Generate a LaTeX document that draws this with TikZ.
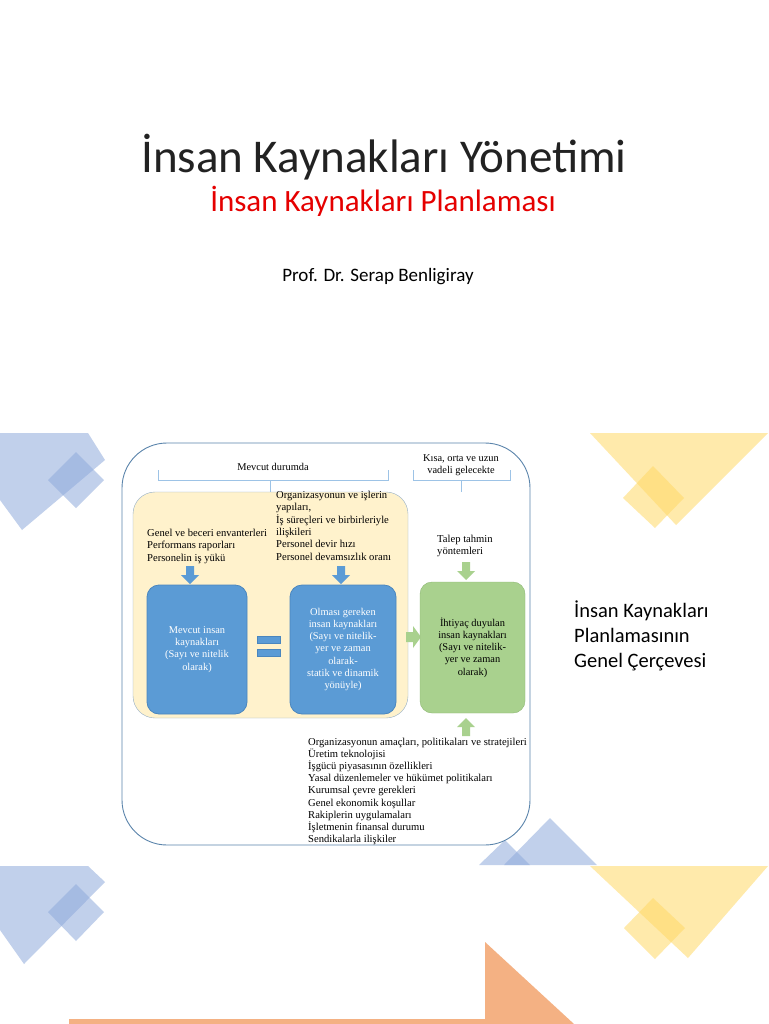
\documentclass[tikz,border=0pt]{standalone}
\usepackage{fontspec}
\setmainfont{Liberation Serif}
\newfontfamily\calfont{Carlito}
\begin{document}
\begin{tikzpicture}[x=1pt,y=-1pt,
  deco/.style={fill=#1,opacity=0.55,draw=none},
  txt/.style={font=\fontsize{10.6}{12.3}\selectfont,align=left,inner sep=0,anchor=north west},
  ctxt/.style={font=\fontsize{10.4}{12.3}\selectfont,align=center,inner sep=0},
  bluebox/.style={fill=blue1,draw=blue2,rounded corners=12pt,line width=0.8pt},
  brk/.style={draw=brk,line width=0.6pt},
  pics/darr/.style={code={\fill[#1] (-4,0)--(4,0)--(4,9)--(9,9)--(0,18)--(-9,9)--(-4,9)--cycle;}},
  pics/uarr/.style={code={\fill[#1] (-4,0)--(4,0)--(4,-9)--(9,-9)--(0,-18)--(-9,-9)--(-4,-9)--cycle;}},
  pics/rarr/.style={code={\fill[#1] (0,-5)--(7,-5)--(7,-11)--(15,0)--(7,11)--(7,5)--(0,5)--cycle;}}
]
\definecolor{lblue}{HTML}{8FAADC}
\definecolor{lyel}{HTML}{FFD966}
\definecolor{orng}{HTML}{F4B183}
\definecolor{blue1}{HTML}{5B9BD5}
\definecolor{blue2}{HTML}{4A86BE}
\definecolor{green1}{HTML}{A9D18E}
\definecolor{green2}{HTML}{8DB873}
\definecolor{cream}{HTML}{FFF2CC}
\definecolor{brk}{HTML}{9DC3E6}
\definecolor{ttl}{HTML}{222222}
\useasboundingbox (0,0) rectangle (768,1024);
\fill[white] (0,0) rectangle (768,1024);
% decorations
\fill[deco=lblue] (0,433)--(88,433)--(105,460)--(22,530)--(0,500)--cycle;
\fill[deco=lblue] (48,480)--(76,452)--(104,480)--(76,508)--cycle;
\fill[deco=lblue] (0,866)--(88,866)--(105,882)--(24,964)--(0,930)--cycle;
\fill[deco=lblue] (48,912)--(76,884)--(104,912)--(76,941)--cycle;
\fill[deco=lyel] (590,433)--(768,433)--(676,525)--cycle;
\fill[deco=lyel] (623,498)--(653,466)--(684,498)--(655,528)--cycle;
\fill[deco=lyel] (590,866)--(768,866)--(688,958)--cycle;
\fill[deco=lyel] (624,928)--(653,898)--(685,928)--(655,959)--cycle;
\fill[deco=lblue] (550,818)--(504,865)--(597,865)--cycle;
\fill[deco=lblue] (505,840)--(479,865)--(530,865)--cycle;
\fill[orng] (485,942)--(574,1024)--(485,1024)--cycle;
\fill[orng] (69,1019) rectangle (486,1024);
% titles
\node[font=\calfont\fontsize{47}{50}\selectfont,text=ttl] (t1) at (384,157) {İnsan Kaynakları Yönetimi};
\node[font=\calfont\fontsize{31}{34}\selectfont,text=red!90!black] (t2) at (383,201) {İnsan Kaynakları Planlaması};
\node[font=\calfont\fontsize{19}{21}\selectfont] (t3) at (378,277) {Prof. Dr. Serap Benligiray};
\node[font=\calfont\fontsize{20.5}{25}\selectfont,align=left,anchor=north west,inner sep=0] (t4) at (574,601) {İnsan Kaynakları\\Planlamasının\\Genel Çerçevesi};
% diagram frame
\draw[draw=blue2!70!gray,line width=0.9pt,rounded corners=45pt] (122,443) rectangle (530,845);
% brackets
\draw[brk] (158,470)--(158,480)--(388,480)--(388,470) (270,480)--(270,492);
\node[ctxt] (b1) at (273,467) {Mevcut durumda};
\draw[brk] (413,470)--(413,480)--(510,480)--(510,470) (461,480)--(461,492);
\node[ctxt] (b2) at (461,465) {Kısa, orta ve uzun\\vadeli gelecekte};
% yellow box
\draw[fill=cream,draw=brk!70!gray,rounded corners=22pt] (133,492) rectangle (408,718);
\node[txt] (l1) at (147,529) {Genel ve beceri envanterleri\\Performans raporları\\Personelin iş yükü};
\node[txt] (l2) at (276,491) {Organizasyonun ve işlerin\\yapıları,\\İş süreçleri ve birbirleriyle\\ilişkileri\\Personel devir hızı\\Personel devamsızlık oranı};
\pic at (190,566) {darr=blue1};
\pic at (341,566) {darr=blue1};
\node[bluebox,minimum width=100pt,minimum height=129pt,text=white,ctxt] (m1) at (197,649.5) {Mevcut insan\\kaynakları\\(Sayı ve nitelik\\olarak)};
\node[bluebox,minimum width=106pt,minimum height=129pt,text=white,ctxt] (m2) at (343,649.5) {Olması gereken\\insan kaynakları\\(Sayı ve nitelik-\\yer ve zaman\\olarak-\\statik ve dinamik\\yönüyle)};
\fill[blue1,draw=blue2] (257,636) rectangle (280,643) (257,649) rectangle (280,656);
\pic at (406,637) {rarr=green1};
\node[fill=green1,draw=green2,rounded corners=12pt,minimum width=105pt,minimum height=131pt,ctxt] (g1) at (472.5,647.5) {İhtiyaç duyulan\\insan kaynakları\\(Sayı ve nitelik-\\yer ve zaman\\olarak)};
\node[txt] (l3) at (437,535) {Talep tahmin\\yöntemleri};
\pic at (466,562) {darr=green1};
\pic at (466,736) {uarr=green1};
\node[txt,font=\fontsize{10.6}{12.1}\selectfont] (l4) at (308,738) {Organizasyonun amaçları, politikaları ve stratejileri\\Üretim teknolojisi\\İşgücü piyasasının özellikleri\\Yasal düzenlemeler ve hükümet politikaları\\Kurumsal çevre gerekleri\\Genel ekonomik koşullar\\Rakiplerin uygulamaları\\İşletmenin finansal durumu\\Sendikalarla ilişkiler};
\end{tikzpicture}
\end{document}
